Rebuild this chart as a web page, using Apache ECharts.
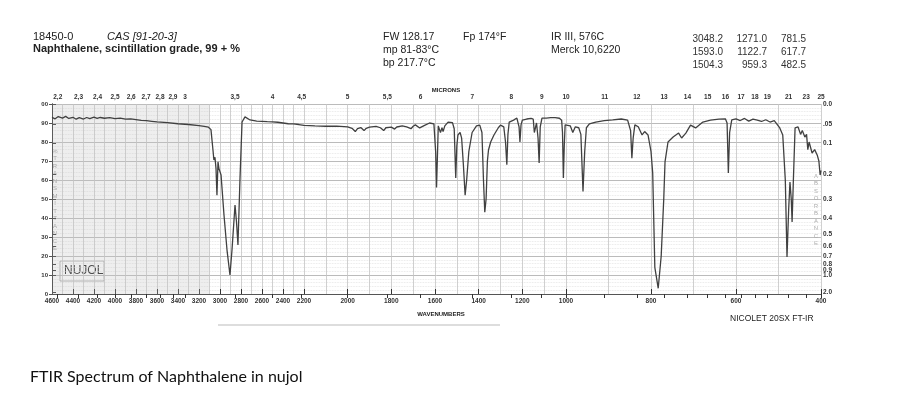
<!DOCTYPE html>
<html>
<head>
<meta charset="utf-8">
<script src="https://cdn.jsdelivr.net/npm/echarts@6/dist/echarts.min.js"></script>
<style>
html,body{margin:0;padding:0;background:#fff;}
#c{width:906px;height:406px;}
</style>
</head>
<body>
<div id="c"></div>
<script>
// ---- data (wavenumber cm-1, % transmittance) ----
const wavenumbers = [
4600,4570,4540,4500,4470,4440,4400,4370,4340,4300,4270,4240,4200,4170,4140,4100,4050,4000,3950,3900,3850,3800,3750,3700,3650,3600,3500,3400,3300,3200,3150,3110,
3086,3067,3058,3048,3038,3029,3019,3010,2990,2962,2933,2905,2886,2857,2843,2829,2810,2790,2762,2714,2650,2600,2550,2500,2450,2400,2350,2300,2250,2200,2150,2100,2050,
2000,1980,1965,1955,1940,1925,1915,1900,1870,1850,1835,1825,1800,1785,1775,1750,1730,1710,1700,1690,1670,1650,1625,1605,
1597,1593,1589,1585,1575,1568,1563,1555,1540,1520,1512,1505,1500,1495,1485,1478,1470,1462,1455,1445,1430,1410,1395,1385,1378,1372,1366,1360,1355,1345,1330,1310,1300,
1285,1277,1271,1266,1260,1240,1225,1215,1211,1206,1200,1180,1160,1150,1145,1140,1135,1128,1123,1118,1110,1090,1070,1050,1030,1020,1016,1012,1008,1004,
998,990,984,978,970,965,960,956,952,945,930,910,890,870,855,848,845,842,838,830,821,815,807,800,796,791,783,776,770,767,760,748,735,728,718,707,695,678,660,640,625,
621,618,615,610,600,590,580,570,560,550,540,530,520,510,497,490,484,480,476,473,470,468,465,461,454,448,444,438,434,431,428,421,415,409,405,402,400];
const transmittance = [
93.0,92.2,93.4,92.6,93.5,92.4,93.0,92.0,92.8,92.1,92.9,92.3,93.1,92.4,92.9,92.5,92.8,92.3,92.6,92.0,92.2,91.8,91.4,91.2,90.9,90.6,90.2,89.6,89.2,88.6,88.2,87.8,
86.5,75.8,70.5,72.0,66.0,52.0,69.5,66.0,62.6,41.6,23.0,10.0,23.0,46.8,38.0,25.8,60.0,90.5,93.2,91.6,91.0,90.9,90.7,90.6,90.4,90.0,89.6,89.5,89.2,88.8,88.5,88.3,88.4,
88.0,87.2,85.5,87.0,87.6,86.0,87.2,87.8,88.2,87.5,86.0,87.5,87.8,86.8,87.9,88.5,88.0,87.0,88.3,89.0,87.4,88.6,90.0,89.5,
75.0,56.0,72.0,88.5,85.0,87.5,85.5,88.5,90.5,90.2,87.0,61.0,78.0,83.7,85.0,82.0,68.0,52.0,60.0,75.0,85.0,88.5,88.9,85.0,60.0,43.0,50.0,70.0,75.8,80.0,83.7,87.5,88.9,
88.0,80.0,68.0,84.0,90.5,91.5,92.6,88.0,80.0,89.0,91.5,92.1,92.4,92.0,85.0,84.0,90.0,82.0,69.0,88.0,92.6,92.6,92.8,92.8,92.5,91.5,85.0,61.0,78.0,89.0,
90.0,88.5,85.0,88.0,87.5,84.0,54.0,75.0,87.5,89.5,90.5,91.2,91.6,92.1,91.5,86.0,71.5,82.0,89.0,88.0,83.7,85.5,83.7,75.0,63.7,14.0,3.0,20.0,50.0,69.5,80.0,82.6,84.7,82.1,84.7,88.9,87.4,90.5,91.5,92.0,92.2,
90.0,63.7,85.0,91.6,92.2,91.3,92.4,91.0,92.0,91.5,90.8,91.7,90.5,91.2,87.4,83.7,60.0,19.5,45.0,58.9,50.0,37.9,60.0,87.4,87.9,84.0,86.0,82.6,84.0,76.0,80.0,74.2,76.0,73.2,70.0,62.6,65.0];
const wavenumberTicks = [4600,4400,4200,4000,3800,3600,3400,3200,3000,2800,2600,2400,2200,2000,1800,1600,1400,1200,1000,800,600,400];
const micronTicks = [2.2,2.3,2.4,2.5,2.6,2.7,2.8,2.9,3,3.5,4,4.5,5,5.5,6,7,8,9,10,11,12,13,14,15,16,17,18,19,21,23,25];
const absorbanceTicks = [0.0,0.05,0.1,0.2,0.3,0.4,0.5,0.6,0.7,0.8,0.9,1.0,2.0];
const transmittanceTicks = [0,10,20,30,40,50,60,70,80,90,100];
const peakList = [[3048.2,1271.0,781.5],[1593.0,1122.7,617.7],[1504.3,959.3,482.5]];

// ---- the chart paper's piecewise wavenumber scale (three linear segments) ----
const SEG = [252, 262, 255]; // relative widths of 4600-2200, 2200-1000, 1000-400
function toU(wn){
  if (wn >= 2200) return (4600 - wn) / 2400 * SEG[0];
  if (wn >= 1000) return SEG[0] + (2200 - wn) / 1200 * SEG[1];
  return SEG[0] + SEG[1] + (1000 - wn) / 600 * SEG[2];
}
function fromU(u){
  if (u <= SEG[0]) return 4600 - u / SEG[0] * 2400;
  if (u <= SEG[0] + SEG[1]) return 2200 - (u - SEG[0]) / SEG[1] * 1200;
  return 1000 - (u - SEG[0] - SEG[1]) / SEG[2] * 600;
}
const U_MAX = SEG[0] + SEG[1] + SEG[2];
const gridWavenumbers = [];
for (let w = 4600; w >= 400; w -= 100) gridWavenumbers.push(w);

const NARROW = "'Liberation Sans Narrow','Liberation Sans',Arial,sans-serif";
const SANS = "'Liberation Sans',Arial,sans-serif";
const chart = echarts.init(document.getElementById('c'), null, {renderer:'canvas'});

const txt = (x,y,text,o) => Object.assign({type:'text', x, y, style:Object.assign({text, fill:'#222', font:'11px '+SANS, textVerticalAlign:'middle'}, o||{})});

const peakGraphics = [];
const colRight = [723, 767, 806];
peakList.forEach((row, r) => row.forEach((v, c) => {
  peakGraphics.push(txt(colRight[c], 39 + r*13, v.toFixed(1), {font:'10px '+SANS, textAlign:'right', fill:'#333'}));
}));

const option = {
  animation:false,
  backgroundColor:'#fff',
  grid:{left:52, right:85, top:104, bottom:112},
  xAxis:[
    { // bottom wavenumber axis
      type:'value', position:'bottom', min:0, max:U_MAX,
      axisLine:{show:true, lineStyle:{color:'#333', width:1}},
      axisTick:{show:true, inside:true, length:5, customValues: wavenumberTicks.map(toU), lineStyle:{color:'#333'}},
      axisLabel:{customValues: wavenumberTicks.map(toU), formatter:v=>String(Math.round(fromU(v)/10)*10), fontSize:6.5, fontWeight:'bold', fontFamily:NARROW, color:'#333', margin:4},
      splitLine:{show:false}
    },
    { // top micron axis
      type:'value', position:'top', min:0, max:U_MAX,
      axisLine:{show:true, lineStyle:{color:'#555', width:1}},
      axisTick:{show:true, inside:true, length:4, customValues: micronTicks.map(m=>toU(10000/m)), lineStyle:{color:'#333'}},
      axisLabel:{customValues: micronTicks.map(m=>toU(10000/m)),
        formatter:v=>{const m=Math.round(10000/fromU(v)*10)/10; return (m%1===0? String(m) : m.toFixed(1).replace('.',','));},
        fontSize:6.5, fontWeight:'bold', fontFamily:NARROW, color:'#333', margin:3},
      splitLine:{show:false}
    },
    { // paper grid lines every 100 cm-1
      type:'value', position:'bottom', min:0, max:U_MAX, show:true,
      axisLine:{show:false}, axisLabel:{show:false},
      axisTick:{show:false, customValues: gridWavenumbers.map(toU)},
      splitLine:{show:true, lineStyle:{color:'#c4c4c4', width:0.8}}
    }
  ],
  yAxis:[
    {
      type:'value', min:0, max:100, interval:10, position:'left',
      axisLine:{show:true, lineStyle:{color:'#555'}},
      axisTick:{show:true, length:3, lineStyle:{color:'#555'}},
      axisLabel:{formatter:v=> v===100 ? '00' : String(v), fontSize:6, fontWeight:'bold', fontFamily:NARROW, color:'#333', margin:4},
      splitLine:{show:true, lineStyle:{color:'#aaa', width:0.8}},
      minorTick:{show:false, splitNumber:5},
      minorSplitLine:{show:true, lineStyle:{color:'#e2e2e2', type:'dotted', width:0.8}}
    },
    {
      type:'value', min:0, max:100, position:'right',
      axisLine:{show:true, lineStyle:{color:'#333', width:1}},
      axisTick:{show:true, length:4, customValues: absorbanceTicks.map(a=>100*Math.pow(10,-a)), lineStyle:{color:'#333'}},
      axisLabel:{customValues: absorbanceTicks.map(a=>100*Math.pow(10,-a)),
        formatter:v=>{const a=Math.round(-Math.log10(v/100)*100)/100; return a===0.05 ? '.05' : a.toFixed(1);},
        fontSize:6.5, fontWeight:'bold', fontFamily:NARROW, color:'#333', margin:2},
      splitLine:{show:false}
    }
  ],
  series:[{
    type:'line', xAxisIndex:0, yAxisIndex:0, symbol:'none', smooth:false,
    lineStyle:{color:'#404040', width:1.3},
    data: wavenumbers.map((w,i)=>[toU(w), transmittance[i]]),
    markArea:{silent:true, itemStyle:{color:'rgba(195,195,195,0.28)'}, data:[[{xAxis:toU(4600)},{xAxis:toU(3100)}]]}
  }],
  graphic:[
    txt(33,37,'18450-0',{font:'11px '+SANS}),
    txt(107,37,'CAS [91-20-3]',{font:'italic 11px '+SANS}),
    txt(33,49,'Naphthalene, scintillation grade, 99 + %',{font:'bold 11px '+SANS}),
    txt(383,37,'FW 128.17',{font:'10.5px '+SANS}),
    txt(383,50,'mp 81-83°C',{font:'10.5px '+SANS}),
    txt(383,63,'bp 217.7°C',{font:'10.5px '+SANS}),
    txt(463,37,'Fp 174°F',{font:'10.5px '+SANS}),
    txt(551,37,'IR III, 576C',{font:'10.5px '+SANS}),
    txt(551,50,'Merck 10,6220',{font:'10.5px '+SANS}),
    ...peakGraphics,
    txt(446,90,'MICRONS',{font:'bold 6px '+SANS, textAlign:'center'}),
    txt(441,314,'WAVENUMBERS',{font:'bold 6px '+SANS, textAlign:'center'}),
    txt(730,319,'NICOLET 20SX FT-IR',{font:'8.5px '+SANS}),
    {type:'rect', shape:{x:60,y:261,width:44,height:20}, style:{fill:'#fff', stroke:'#999', lineWidth:0.8}},
    txt(64,271,'NUJOL',{font:'12px '+SANS, fill:'#222'}),
    txt(55,200,'%\nT\nR\nA\nN\nS\nM\nI\nT\nT\nA\nN\nC\nE',{font:'6px '+SANS, fill:'#999', textAlign:'center', lineHeight:7.5}),
    txt(816,210,'A\nB\nS\nO\nR\nB\nA\nN\nC\nE',{font:'6px '+SANS, fill:'#aaa', textAlign:'center', lineHeight:7.5}),
    {type:'line', shape:{x1:218,y1:325,x2:500,y2:325}, style:{stroke:'#bbb', lineWidth:1}},
    txt(30,377,'FTIR Spectrum of Naphthalene in nujol',{font:'16px Lato,"Open Sans",sans-serif', fill:'#111'})
  ]
};
chart.setOption(option);
</script>
</body>
</html>
